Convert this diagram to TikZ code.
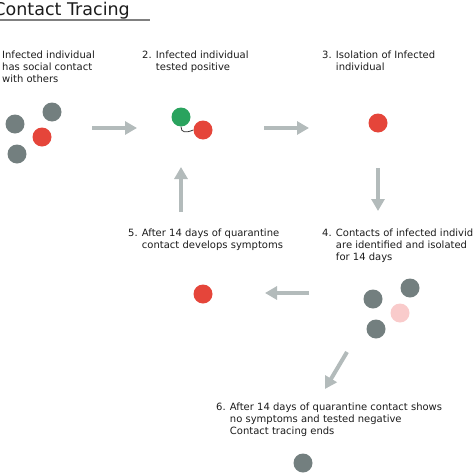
\documentclass[tikz,border=0pt]{standalone}
\usepackage{fontspec}
\setmainfont{DejaVu Sans}
\usetikzlibrary{arrows.meta}
\definecolor{infred}{HTML}{E5453A}
\definecolor{contgray}{HTML}{737F7F}
\definecolor{posgreen}{HTML}{2AA35E}
\definecolor{isopink}{HTML}{F9CBCB}
\definecolor{arrgray}{HTML}{B3BBBB}
\definecolor{txtgray}{HTML}{1C1C1C}
\tikzset{
  person/.style={circle, inner sep=0pt, minimum size=19pt},
  steptext/.style={anchor=base west, align=left, inner sep=0pt, text=txtgray,
    font=\fontsize{10}{12}\selectfont},
  flowarrow/.style={arrgray, line width=4pt, -{Triangle[length=12pt,width=13pt]}}
}
\begin{document}
\begin{tikzpicture}[x=1pt,y=-1pt]
 \path[use as bounding box, clip] (0,0) rectangle (474,474);
 % TITLE
 \node[anchor=base east, inner sep=0pt, text=txtgray, font=\fontsize{17.5}{21}\selectfont] (title) at (130,15) {Contact Tracing};
 \draw[gray, line width=1.2pt] (0,20) -- (150,20);
 % STEP 1: social contact (base = last line)
 \node[steptext] (t1) at (2,82) {Infected individual\\has social contact\\with others};
 \node[person, fill=contgray] (g1a) at (15,124) {};
 \node[person, fill=contgray] (g1b) at (52,112) {};
 \node[person, fill=infred] (g1c) at (42,137) {};
 \node[person, fill=contgray] (g1d) at (17,154) {};
 % STEP 2: tested positive
 \node[steptext] (t2) at (142,70) {2. Infected individual\\\phantom{2. }tested positive};
 \node[person, fill=posgreen] (g2a) at (181,117) {};
 \node[person, fill=infred] (g2b) at (203,130) {};
 \draw[black!80, line width=0.8pt] (g2a.south) .. controls (181,133) and (186,133) .. (g2b.west);
 % STEP 3: isolation
 \node[steptext] (t3) at (322,70) {3. Isolation of Infected\\\phantom{3. }individual};
 \node[person, fill=infred] (g3a) at (378,123) {};
 % STEP 4: contacts isolated
 \node[steptext] (t4) at (322,260) {4. Contacts of infected individual\\\phantom{4. }are identified and isolated\\\phantom{4. }for 14 days};
 \node[person, fill=contgray] (g4a) at (373,299) {};
 \node[person, fill=contgray] (g4b) at (410,288) {};
 \node[person, fill=isopink] (g4c) at (400,313) {};
 \node[person, fill=contgray] (g4d) at (376,329) {};
 % STEP 5: symptoms
 \node[steptext] (t5) at (128,248) {5. After 14 days of quarantine\\\phantom{5. }contact develops symptoms};
 \node[person, fill=infred] (g5a) at (203,294) {};
 % STEP 6: tracing ends
 \node[steptext] (t6) at (216,434) {6. After 14 days of quarantine contact shows\\\phantom{6. }no symptoms and tested negative\\\phantom{6. }Contact tracing ends};
 \node[person, fill=contgray] (g6a) at (303,463) {};
 % Arrows between stages
 \coordinate (a1s) at (92,128);  \coordinate (a1e) at (137,128);
 \coordinate (a2s) at (264,128); \coordinate (a2e) at (309,128);
 \coordinate (a3s) at (378,168); \coordinate (a3e) at (378,211);
 \coordinate (a4s) at (309,293); \coordinate (a4e) at (265,293);
 \coordinate (a5s) at (181,212); \coordinate (a5e) at (181,167);
 \coordinate (a6s) at (347,352); \coordinate (a6e) at (325,389);
 \draw[flowarrow] (a1s) -- (a1e);
 \draw[flowarrow] (a2s) -- (a2e);
 \draw[flowarrow] (a3s) -- (a3e);
 \draw[flowarrow] (a4s) -- (a4e);
 \draw[flowarrow] (a5s) -- (a5e);
 \draw[flowarrow] (a6s) -- (a6e);
\end{tikzpicture}
\end{document}
